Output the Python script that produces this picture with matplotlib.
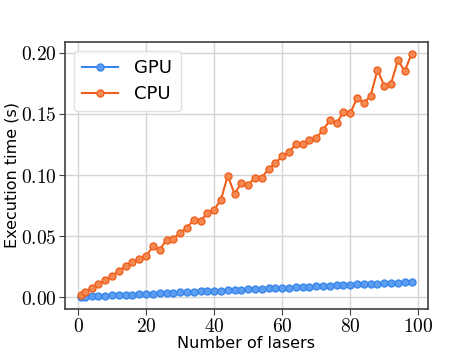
import numpy as np
import matplotlib
matplotlib.use('Agg')
import matplotlib.pyplot as plt
from matplotlib.ticker import FuncFormatter

plt.rcParams['mathtext.fontset'] = 'cm'
plt.rcParams['font.family'] = 'DejaVu Sans'

# Datos
n_lasers = [1, 2, 4, 6, 8, 10, 12, 14, 16, 18, 20, 22, 24, 26, 28, 30, 32, 34, 36, 38,
            40, 42, 44, 46, 48, 50, 52, 54, 56, 58, 60, 62, 64, 66, 68, 70, 72, 74, 76, 78,
            80, 82, 84, 86, 88, 90, 92, 94, 96, 98]
t_gpu = [0.0005, 0.0006, 0.0009, 0.0011, 0.0013, 0.0016, 0.0018, 0.0021, 0.0023, 0.0025,
         0.0028, 0.0030, 0.0033, 0.0035, 0.0038, 0.0040, 0.0043, 0.0045, 0.0048, 0.0050,
         0.0053, 0.0055, 0.0058, 0.0060, 0.0063, 0.0065, 0.0068, 0.0070, 0.0073, 0.0075,
         0.0078, 0.0080, 0.0083, 0.0085, 0.0088, 0.0090, 0.0093, 0.0095, 0.0098, 0.0100,
         0.0103, 0.0105, 0.0108, 0.0110, 0.0113, 0.0115, 0.0118, 0.0120, 0.0122, 0.0125]
t_cpu = [0.002, 0.004, 0.008, 0.011, 0.014, 0.0176, 0.0214, 0.0255, 0.029, 0.031,
         0.0336, 0.0417, 0.039, 0.0469, 0.048, 0.0526, 0.057, 0.0634, 0.0626, 0.0689,
         0.0715, 0.080, 0.0994, 0.0846, 0.0937, 0.0921, 0.0976, 0.098, 0.1049, 0.110,
         0.1152, 0.119, 0.125, 0.125, 0.1287, 0.1306, 0.1366, 0.145, 0.1425, 0.1515,
         0.1506, 0.163, 0.159, 0.165, 0.186, 0.173, 0.1748, 0.194, 0.185, 0.199]

fig = plt.figure(figsize=(4.74, 3.55), dpi=100)
ax = fig.add_axes([0.137, 0.13, 0.766, 0.752])

ax.plot(n_lasers, t_gpu, '-o', color='#3a86ec', lw=1.5, ms=5,
        markerfacecolor='#5e9ef0', markeredgecolor='#3a86ec', label='GPU', zorder=3)
ax.plot(n_lasers, t_cpu, '-o', color='#f0601c', lw=1.5, ms=5,
        markerfacecolor='#f48a52', markeredgecolor='#f0601c', label='CPU', zorder=3)

ax.grid(True, color='#d5d5d5', lw=1.0)
ax.set_axisbelow(True)
for s in ax.spines.values():
    s.set_color('#404040')
    s.set_linewidth(1.2)

ax.set_xticks([0, 20, 40, 60, 80, 100])
ax.set_yticks([0.0, 0.05, 0.10, 0.15, 0.20])
ax.xaxis.set_major_formatter(FuncFormatter(lambda v, p: r'$%d$' % v))
ax.yaxis.set_major_formatter(FuncFormatter(lambda v, p: r'$%.2f$' % v))
ax.tick_params(labelsize=14, color='#404040', length=4, pad=2)

ax.set_xlabel('Number of lasers', fontsize=11.5, labelpad=0)
ax.set_ylabel('Execution time (s)', fontsize=11.5, labelpad=1)

ax.legend(loc='upper left', fontsize=13, handlelength=2.0, borderpad=0.45,
          labelspacing=0.45, handletextpad=0.9, framealpha=0.9, edgecolor='#dddddd')

fig.savefig('out.png', dpi=100)
